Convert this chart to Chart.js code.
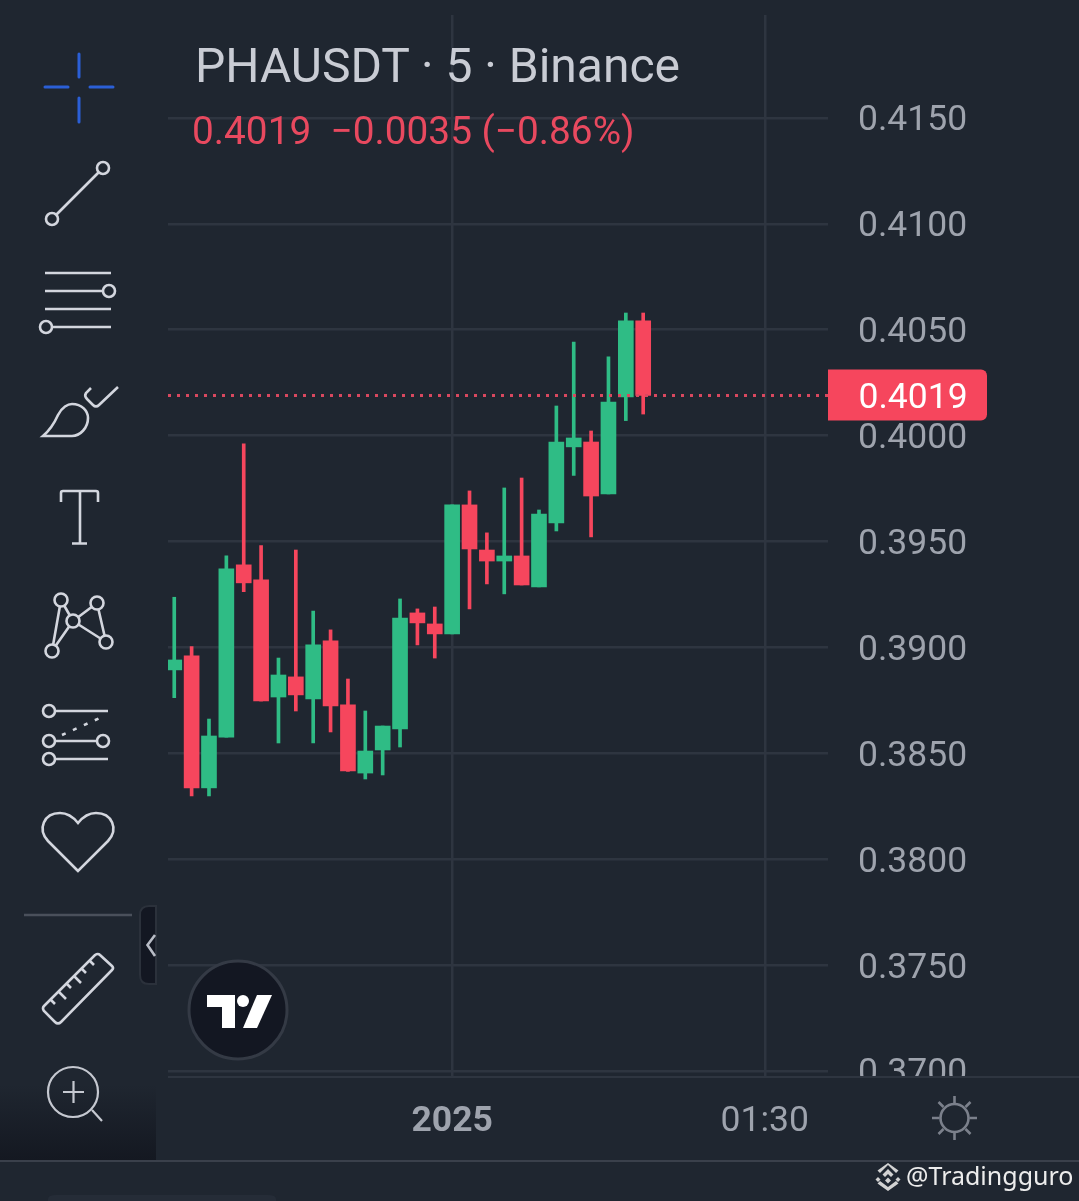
<!DOCTYPE html>
<html>
<head>
<meta charset="utf-8">
<title>PHAUSDT</title>
<script src="https://cdn.jsdelivr.net/npm/chart.js@4/dist/chart.umd.min.js"></script>
<style>
  html, body { margin: 0; padding: 0; background: #1f2630; }
  #wrap { position: relative; width: 1079px; height: 1201px; overflow: hidden; background: #1f2630; }
  #chart { position: absolute; left: 0; top: 0; }
  svg { position: absolute; left: 0; top: 0; }
  .txt { position: absolute; white-space: pre; font-family: Roboto, sans-serif; line-height: 1; }
  #title { left: 195px; top: 42px; font-size: 48px; color: #c9ccd4; }
  #quote { left: 192px; top: 112px; font-size: 38.800px; color: #e8495f; }
  #mark { left: 906px; top: 1163px; font-family: "Noto Sans", sans-serif; font-size: 25px; color: #ececec; }
</style>
</head>
<body>
<div id="wrap">
  <canvas id="chart" width="1079" height="1201"></canvas>

  <svg width="1079" height="1201" fill="none" stroke="#d3d6de" stroke-width="2.6">
    <defs>
      <linearGradient id="fade" x1="0" y1="0" x2="0" y2="1">
        <stop offset="0" stop-color="#1f2630"/>
        <stop offset="1" stop-color="#141821"/>
      </linearGradient>
    </defs>
    <rect x="0" y="1085" width="156" height="75" fill="url(#fade)" stroke="none"/>

    <!-- crosshair -->
    <g stroke="#2b5fd6" stroke-width="3" stroke-linecap="round">
      <path d="M79 54V77M79 98V122M45 87H68M90 87H113"/>
    </g>
    <!-- trend line -->
    <path d="M56 215L99 172"/><circle cx="103" cy="168" r="6"/><circle cx="52" cy="219" r="6"/>
    <!-- parallel lines -->
    <path d="M45 273H111M45 291H103M45 309H111M52 327H111"/><circle cx="109" cy="291" r="6"/><circle cx="46" cy="327" r="6"/>
    <!-- brush -->
    <path d="M43 436C50 430 54 424 58 415C62 407 68 404 72 404C82 404 88 411 88 418C88 428 80 436 72 436Z"/>
    <path d="M91 388L86 393Q84 396 87 399L93 405Q96 408 99 405L118 387"/>
    <!-- text -->
    <path d="M61 502V493Q61 491 63 491H96Q98 491 98 493V502M80 491V543M72 543.5H87"/>
    <!-- pattern -->
    <path d="M61 600L52 651M61 600L73 621M73 621L97 603M73 621L106 642M97 603L106 642M73 621L52 651"/>
    <g fill="#1f2630"><circle cx="61" cy="600" r="6.5"/><circle cx="97" cy="603" r="6.5"/><circle cx="73" cy="621" r="6.5"/><circle cx="52" cy="651" r="6.5"/><circle cx="106" cy="642" r="6.5"/></g>
    <!-- fib -->
    <path d="M55 711H108M55 741H97M55 759H108"/><path d="M62 735L102 717" stroke-dasharray="4 8"/>
    <circle cx="49" cy="711" r="6"/><circle cx="49" cy="741" r="6"/><circle cx="103" cy="741" r="6"/><circle cx="49" cy="759" r="6"/>
    <!-- heart -->
    <path d="M78 871L48 841C37 829 44 813 60 813C68 813 74 818 78 823C82 818 88 813 96 813C112 813 119 829 108 841Z"/>
    <!-- divider -->
    <path d="M24 915H132" stroke="#4a505b" stroke-width="2.6"/>
    <!-- collapse -->
    <path d="M156 906H149Q140 906 140 915V975Q140 984 149 984H156Z" fill="#131722" stroke="#2b313b" stroke-width="2"/>
    <path d="M155 935L147.500 945L155 956" stroke="#b8bcc6"/>
    <!-- ruler -->
    <path d="M95 955Q98 953 100 955L112 966Q114 968 112 970L61 1022Q58 1025 55 1022L44 1011Q42 1008 44 1006Z"/>
    <path d="M51 1000L55 1004M59 992L66 999M67 984L71 988M74 976L81 983M82 969L86 973M90 961L94 965"/>
    <!-- zoom -->
    <g stroke="#c5c8d0" stroke-width="2.2"><circle cx="73" cy="1092" r="25"/><path d="M63 1092H84M73.500 1081V1103M92 1110L102 1121"/></g>
    <!-- logo -->
    <circle cx="238" cy="1010" r="49" fill="#131722" stroke="#343a45" stroke-width="3"/>
    <g fill="#fff" stroke="none">
      <path d="M207 995H235V1028H222V1007H207Z"/><circle cx="243" cy="1001" r="6"/><path d="M257 995H272L257 1028H243Z"/>
    </g>
    <!-- sun -->
    <g stroke="#7b808b" stroke-width="2.6">
      <circle cx="954.500" cy="1118" r="14"/>
      <path d="M954.500 1096V1103M954.500 1133V1140M932 1118H939.500M969.500 1118H977M938.500 1102L943.500 1107M965.500 1129L970.500 1134M970.500 1102L965.500 1107M943.500 1129L938.500 1134"/>
    </g>
    <!-- bottom strip -->
    <path d="M0 1161H1079" stroke="#3a404b" stroke-width="2"/>
    <path d="M48 1201V1199Q48 1195 56 1195H268Q276 1195 276 1199V1201" fill="#252c37" stroke="none"/>
    <!-- binance mark -->
    <g fill="#d2d2d2" stroke="none">
      <path d="M888 1169L893.500 1174.500L891 1177L888 1174L885 1177L882.500 1174.500Z"/>
      <path d="M888 1165L880 1173L877.500 1170.500L888 1163L898.500 1170.500L896 1173Z"/>
      <path d="M888 1177.500L891 1180.500L888 1183.500L885 1180.500Z"/>
      <path d="M888 1191L877.500 1183.500L880 1181L888 1187L896 1181L898.500 1183.500Z"/>
      <path d="M878 1177L880.500 1179.500L878 1182L875.500 1179.500Z"/>
      <path d="M898 1177L900.500 1179.500L898 1182L895.500 1179.500Z"/>
    </g>
  </svg>

  <div class="txt" id="title">PHAUSDT · 5 · Binance</div>
  <div class="txt" id="quote">0.4019  −0.0035 (−0.86%)</div>
  <div class="txt" id="mark">@Tradingguro</div>
</div>

<script>
// minutes from midnight 1 Jan 2025, 5 min candles
const minutes = [-80, -75, -70, -65, -60, -55, -50, -45, -40, -35, -30, -25, -20, -15, -10, -5, 0, 5, 10, 15, 20, 25, 30, 35, 40, 45, 50, 55];
const opens  = [0.38894, 0.38960, 0.38337, 0.38577, 0.39390, 0.39319, 0.38766, 0.38861, 0.38757, 0.39031, 0.38729, 0.38407, 0.38516, 0.38615, 0.39163, 0.39111, 0.39064, 0.39673, 0.39460, 0.39408, 0.39432, 0.39286, 0.39588, 0.39947, 0.39970, 0.39725, 0.40183, 0.40542];
const closes = [0.38941, 0.38337, 0.38582, 0.39371, 0.39305, 0.38747, 0.38870, 0.38776, 0.39012, 0.38724, 0.38417, 0.38511, 0.38629, 0.39139, 0.39116, 0.39064, 0.39673, 0.39465, 0.39408, 0.39432, 0.39295, 0.39630, 0.39970, 0.39989, 0.39715, 0.40159, 0.40542, 0.40190];
const highs  = [0.39237, 0.39004, 0.38662, 0.39432, 0.39961, 0.39481, 0.38950, 0.39460, 0.39172, 0.39083, 0.38851, 0.38700, 0.38629, 0.39229, 0.39182, 0.39191, 0.39673, 0.39739, 0.39541, 0.39753, 0.39800, 0.39649, 0.40140, 0.40442, 0.40022, 0.40372, 0.40579, 0.40579];
const lows   = [0.38763, 0.38299, 0.38299, 0.38577, 0.39263, 0.38747, 0.38549, 0.38700, 0.38549, 0.38601, 0.38415, 0.38379, 0.38398, 0.38530, 0.39012, 0.38950, 0.39064, 0.39182, 0.39300, 0.39253, 0.39295, 0.39286, 0.39550, 0.39812, 0.39522, 0.39725, 0.40071, 0.40102];

const priceTicks = [0.415, 0.41, 0.405, 0.4, 0.395, 0.39, 0.385, 0.38, 0.375, 0.37];
const timeTicks = [0, 90];
const timeLabels = ["2025", "01:30"];
const lastPrice = 0.4019;

const UP = "#2fbc85";
const DOWN = "#f6465d";
const GRID = "#2e3540";
const BG = "#1f2630";
const LABEL = "#9ea3ad";
const X_MIN = -81.8;
const X_MAX = 108.2;
const Y_MIN = 0.36972;
const Y_MAX = 0.41986;

const candleColor = (ctx) => (closes[ctx.dataIndex] >= opens[ctx.dataIndex] ? UP : DOWN);

// paints the bottom band over the clipped 0.3700 label, and the last price tag
const overlay = {
  id: "overlay",
  afterDatasetsDraw(chart) {
    const { ctx, chartArea, scales } = chart;
    ctx.save();
    ctx.fillStyle = BG;
    ctx.fillRect(chartArea.right, chartArea.bottom, chart.width - chartArea.right, 70);
    ctx.strokeStyle = GRID;
    ctx.lineWidth = 2;
    ctx.beginPath();
    ctx.moveTo(chartArea.left, chartArea.bottom);
    ctx.lineTo(chart.width, chartArea.bottom);
    ctx.stroke();

    const y = scales.y.getPixelForValue(lastPrice);
    ctx.fillStyle = DOWN;
    ctx.beginPath();
    ctx.roundRect(chartArea.right, y - 26, 159, 51, [0, 6, 6, 0]);
    ctx.fill();
    ctx.fillStyle = "#ffffff";
    ctx.font = "35.500px Roboto";
    ctx.textAlign = "left";
    ctx.textBaseline = "middle";
    ctx.fillText(lastPrice.toFixed(4), 858.5, y + 4);
    ctx.restore();
  },
};

new Chart(document.getElementById("chart"), {
  data: {
    datasets: [
      {
        type: "line",
        order: 0,
        data: [{ x: X_MIN, y: lastPrice }, { x: X_MAX, y: lastPrice }],
        borderColor: "#d9485f",
        borderWidth: 3,
        borderDash: [3, 6],
        pointRadius: 0,
      },
      {
        type: "bar",
        order: 1,
        data: minutes.map((m, i) => ({ x: m, y: [opens[i], closes[i]] })),
        backgroundColor: candleColor,
        barThickness: 15,
        grouped: false,
      },
      {
        type: "bar",
        order: 2,
        data: minutes.map((m, i) => ({ x: m, y: [lows[i], highs[i]] })),
        backgroundColor: candleColor,
        barThickness: 3,
        grouped: false,
      },
    ],
  },
  options: {
    responsive: false,
    animation: false,
    events: [],
    layout: { padding: { left: 168, top: 15, right: 0, bottom: 0 } },
    plugins: { legend: { display: false }, tooltip: { enabled: false } },
    scales: {
      x: {
        type: "linear",
        offset: false,
        min: X_MIN,
        max: X_MAX,
        afterBuildTicks: (axis) => { axis.ticks = timeTicks.map((v) => ({ value: v })); },
        afterFit: (axis) => {
          axis.height = 124;
          axis.paddingLeft = 0;
          axis.paddingRight = 0;
        },
        border: { display: false },
        grid: { offset: false, color: GRID, lineWidth: 2.5, drawTicks: false },
        ticks: {
          z: 1,
          autoSkip: false,
          maxRotation: 0,
          padding: 24,
          color: LABEL,
          callback: (v) => timeLabels[timeTicks.indexOf(v)],
          font: (ctx) => ({
            family: "Roboto",
            size: 35.5,
            weight: ctx.index === 0 ? "bold" : "normal",
          }),
        },
      },
      y: {
        position: "right",
        min: Y_MIN,
        max: Y_MAX,
        afterBuildTicks: (axis) => { axis.ticks = priceTicks.map((v) => ({ value: v })); },
        afterFit: (axis) => {
          axis.width = 251;
          axis.paddingTop = 0;
          axis.paddingBottom = 0;
        },
        border: { display: false },
        grid: { color: GRID, lineWidth: 2.5, drawTicks: false },
        ticks: {
          padding: 30,
          labelOffset: 3.5,
          color: LABEL,
          callback: (v) => v.toFixed(4),
          font: { family: "Roboto", size: 35.5 },
        },
      },
    },
  },
  plugins: [overlay],
});
</script>
</body>
</html>
